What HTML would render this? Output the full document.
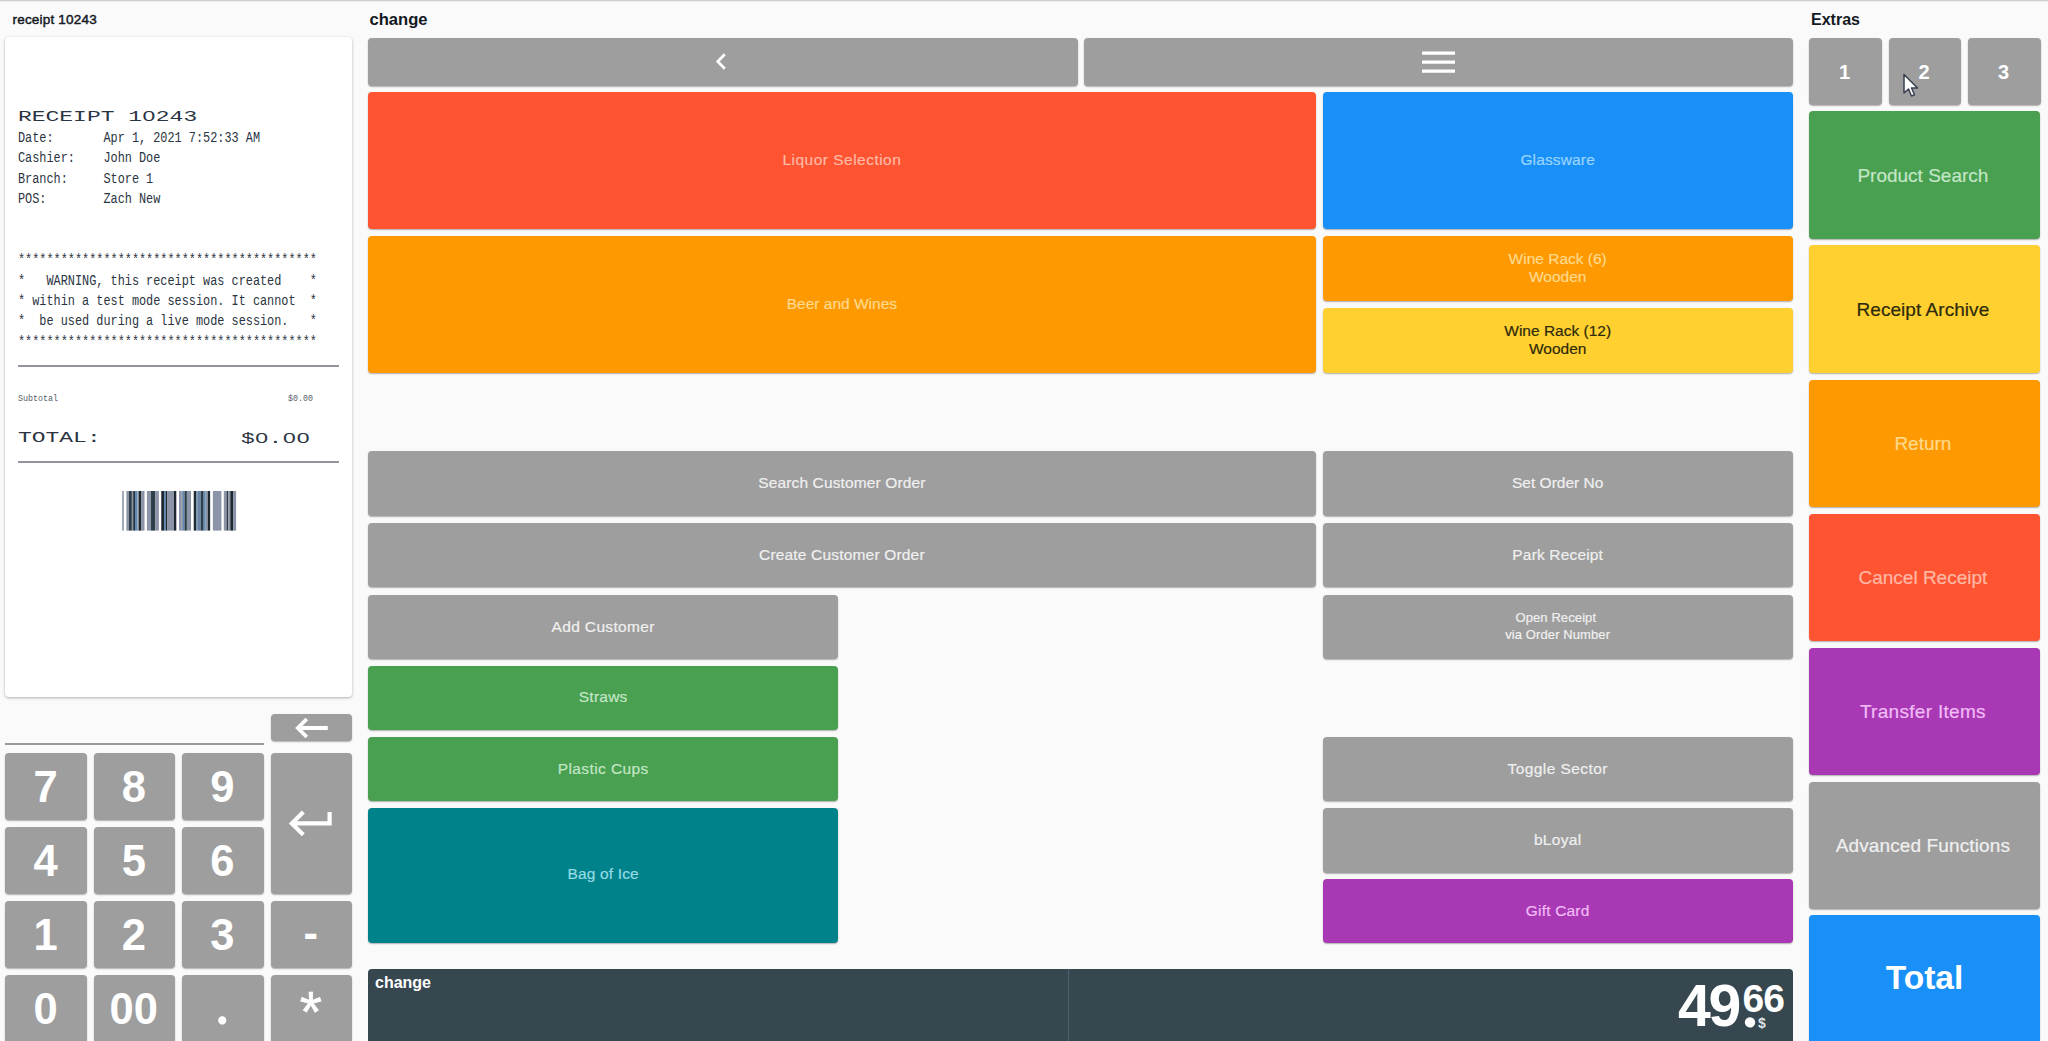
<!DOCTYPE html>
<html lang="en">
<head>
<meta charset="utf-8">
<title>POS</title>
<style>
html,body{margin:0;padding:0;}
body{width:2048px;height:1041px;overflow:hidden;background:#fafafa;position:relative;font-family:"Liberation Sans",Arial,sans-serif;}
.topline{position:absolute;left:0;top:0;width:2048px;height:2px;background:linear-gradient(#cfcfcf,#cfcfcf 1px,#ececec 1px,#ececec);}
.lbl{position:absolute;color:#14181f;font-weight:bold;font-size:16px;line-height:18px;white-space:nowrap;}
.t{position:absolute;box-sizing:border-box;border-radius:4px;display:flex;align-items:center;justify-content:center;text-align:center;color:#f0f0f0;font-size:15.5px;line-height:18px;box-shadow:0 1px 1.5px rgba(0,0,0,.3);white-space:nowrap;-webkit-text-stroke:.2px currentColor;}
.g{background:#9e9e9e;}
.red{background:#ff5432;color:#ffb9a6;}
.org{background:#ff9902;color:#ffd98c;}
.blu{background:#1890f7;color:#9ad4ff;}
.yel{background:#ffd030;color:#2e2a0c;}
.grn{background:#48a050;color:#c3e6c6;}
.tea{background:#00828a;color:#96dce4;}
.pur{background:#a838b4;color:#f2bcf7;}
.ex{font-size:19px;}
.key{font-weight:bold;font-size:43.500px;color:#fff;padding-right:1px;padding-top:1px;-webkit-text-stroke:0;}
.receipt{position:absolute;left:5px;top:37px;width:347px;height:660px;background:#fff;border-radius:4px;box-shadow:0 1px 3px rgba(0,0,0,.3);}
.m{position:absolute;left:18px;white-space:pre;font-family:"Liberation Mono","DejaVu Sans Mono",monospace;color:#2b3442;transform-origin:0 0;}
.hr{position:absolute;left:18px;width:321px;height:2.200px;background:#92959d;}
.bar{position:absolute;left:368px;top:969px;width:1425px;height:76px;background:#36474f;border-radius:4px 4px 0 0;}
.z{font-family:"Liberation Sans",Arial,sans-serif;letter-spacing:.044em;position:relative;left:.022em;}
</style>
</head>
<body>
<div class="topline"></div>

<!-- labels -->
<div class="lbl" style="left:12.500px;top:11px;font-size:13.500px;letter-spacing:.2px;font-weight:normal;-webkit-text-stroke:.45px #14181f;">receipt 10243</div>
<div class="lbl" style="left:369.500px;top:11px;font-size:16.600px;">change</div>
<div class="lbl" style="left:1811px;top:11px;">Extras</div>

<!-- receipt -->
<div class="receipt"></div>
<div class="m" style="top:107.200px;font-size:15.200px;line-height:18px;transform:scaleX(1.512);">RECEIPT 1<span class="z">0</span>243</div>
<div class="m" style="top:127.700px;font-size:14.5px;line-height:20.4px;transform:scaleX(.818);">Date:       Apr 1, 2021 7:52:33 AM
Cashier:    John Doe
Branch:     Store 1
POS:        Zach New


******************************************
*   WARNING, this receipt was created    *
* within a test mode session. It cannot  *
*  be used during a live mode session.   *
******************************************</div>
<div class="hr" style="top:365px;"></div>
<div class="m" style="top:393px;font-size:8.5px;line-height:12px;transform:scaleX(.98);color:#59616e;">Subtotal</div>
<div class="m" style="top:393px;left:287.500px;font-size:8.5px;line-height:12px;transform:scaleX(.98);color:#59616e;">$0.00</div>
<div class="m" style="top:428.500px;font-size:15.200px;line-height:18px;transform:scaleX(1.512);">TOTAL:</div>
<div class="m" style="top:428.500px;left:240.700px;font-size:15.200px;line-height:18px;transform:scaleX(1.512);">$<span class="z">0</span>.<span class="z">00</span></div>
<div class="hr" style="top:461px;"></div>
<svg style="position:absolute;left:110px;top:491.300px;" width="130" height="40" viewBox="0 0 130 40">
<rect x="11.96" y="0" width="2.05" height="39.600" fill="#a3a9b8"/><rect x="16.40" y="0" width="2.39" height="39.600" fill="#8c95a8"/><rect x="18.80" y="0" width="3.08" height="39.600" fill="#2e3f4a"/><rect x="21.87" y="0" width="1.37" height="39.600" fill="#8c95a8"/><rect x="23.24" y="0" width="1.71" height="39.600" fill="#1f2730"/><rect x="24.95" y="0" width="2.39" height="39.600" fill="#5f8ab3"/><rect x="27.34" y="0" width="1.37" height="39.600" fill="#8c95a8"/><rect x="28.71" y="0" width="2.73" height="39.600" fill="#1f2730"/><rect x="31.44" y="0" width="3.08" height="39.600" fill="#8c95a8"/><rect x="36.91" y="0" width="4.10" height="39.600" fill="#8c95a8"/><rect x="41.01" y="0" width="4.10" height="39.600" fill="#2e3f4a"/><rect x="45.11" y="0" width="3.76" height="39.600" fill="#8c95a8"/><rect x="51.26" y="0" width="2.73" height="39.600" fill="#1f2730"/><rect x="54.00" y="0" width="1.71" height="39.600" fill="#5f8ab3"/><rect x="55.71" y="0" width="1.71" height="39.600" fill="#1f2730"/><rect x="57.42" y="0" width="6.49" height="39.600" fill="#8c95a8"/><rect x="63.91" y="0" width="2.39" height="39.600" fill="#1f2730"/><rect x="69.04" y="0" width="2.73" height="39.600" fill="#8c95a8"/><rect x="71.77" y="0" width="1.23" height="39.600" fill="#8c95a8"/><rect x="73.00" y="0" width="1.50" height="39.600" fill="#5f8ab3"/><rect x="74.50" y="0" width="2.39" height="39.600" fill="#2e3f4a"/><rect x="76.90" y="0" width="4.10" height="39.600" fill="#8c95a8"/><rect x="83.73" y="0" width="2.39" height="39.600" fill="#1f2730"/><rect x="86.12" y="0" width="1.71" height="39.600" fill="#6f8fae"/><rect x="87.83" y="0" width="3.08" height="39.600" fill="#6a83a3"/><rect x="90.91" y="0" width="2.73" height="39.600" fill="#2e3f4a"/><rect x="93.64" y="0" width="2.05" height="39.600" fill="#5f8ab3"/><rect x="95.69" y="0" width="2.05" height="39.600" fill="#8c95a8"/><rect x="97.74" y="0" width="2.39" height="39.600" fill="#1f2730"/><rect x="102.87" y="0" width="8.54" height="39.600" fill="#8c95a8"/><rect x="113.81" y="0" width="2.73" height="39.600" fill="#8c95a8"/><rect x="116.54" y="0" width="1.71" height="39.600" fill="#2e3f4a"/><rect x="118.25" y="0" width="2.05" height="39.600" fill="#8c95a8"/><rect x="120.30" y="0" width="2.73" height="39.600" fill="#1f2730"/><rect x="123.03" y="0" width="3.08" height="39.600" fill="#8c95a8"/>
</svg>

<!-- numpad -->
<div style="position:absolute;left:5px;top:743px;width:259px;height:1.5px;background:#9a9a9a;"></div>
<div class="t g" style="left:270.500px;top:714px;width:81.5px;height:27.3px;"></div>
<div class="t g key" style="left:5.200px;top:752.600px;width:81.800px;height:67.700px;">7</div>
<div class="t g key" style="left:93.700px;top:752.600px;width:81.200px;height:67.700px;">8</div>
<div class="t g key" style="left:181.900px;top:752.600px;width:81.700px;height:67.700px;">9</div>
<div class="t g" style="left:270.800px;top:752.600px;width:81.200px;height:141.900px;"></div>
<div class="t g key" style="left:5.200px;top:826.700px;width:81.800px;height:67.700px;">4</div>
<div class="t g key" style="left:93.700px;top:826.700px;width:81.200px;height:67.700px;">5</div>
<div class="t g key" style="left:181.900px;top:826.700px;width:81.700px;height:67.700px;">6</div>
<div class="t g key" style="left:5.200px;top:900.800px;width:81.800px;height:67.700px;">1</div>
<div class="t g key" style="left:93.700px;top:900.800px;width:81.200px;height:67.700px;">2</div>
<div class="t g key" style="left:181.900px;top:900.800px;width:81.700px;height:67.700px;">3</div>
<div class="t g key" style="left:270.800px;top:900.800px;width:81px;height:67.700px;padding-bottom:5px;">-</div>
<div class="t g key" style="left:5.200px;top:974.900px;width:81.800px;height:67.700px;">0</div>
<div class="t g key" style="left:93.700px;top:974.900px;width:81.200px;height:67.700px;">00</div>
<div class="t g key" style="left:181.900px;top:974.900px;width:81.700px;height:67.700px;font-family:'Liberation Serif',serif;font-size:50px;line-height:50px;padding-bottom:5px;">.</div>
<div class="t g key" style="left:270.800px;top:974.900px;width:81.200px;height:67.700px;font-weight:normal;font-size:57px;line-height:57px;padding-top:8px;-webkit-text-stroke:.6px #fff;">*</div>

<!-- main grid -->
<div class="t g" style="left:368px;top:37.500px;width:709.500px;height:48.500px;"></div>
<div class="t g" style="left:1084px;top:37.500px;width:709px;height:48.500px;"></div>

<div class="t red" style="left:368px;top:91.700px;width:947.800px;height:137px;letter-spacing:.48px;">Liquor Selection</div>
<div class="t blu" style="left:1322.700px;top:91.700px;width:470px;height:137px;letter-spacing:.15px;">Glassware</div>
<div class="t org" style="left:368px;top:235.700px;width:947.800px;height:137.400px;">Beer and Wines</div>
<div class="t org" style="left:1322.700px;top:235.700px;width:470px;height:65.200px;">Wine Rack (6)<br>Wooden</div>
<div class="t yel" style="left:1322.700px;top:307.800px;width:470px;height:65.300px;">Wine Rack (12)<br>Wooden</div>

<div class="t g" style="left:368px;top:450.600px;width:947.800px;height:65px;letter-spacing:.13px;">Search Customer Order</div>
<div class="t g" style="left:1322.700px;top:450.600px;width:470px;height:65px;">Set Order No</div>
<div class="t g" style="left:368px;top:522.900px;width:947.800px;height:64.600px;letter-spacing:.18px;">Create Customer Order</div>
<div class="t g" style="left:1322.700px;top:522.900px;width:470px;height:64.600px;letter-spacing:.16px;">Park Receipt</div>
<div class="t g" style="left:368px;top:594.500px;width:470.400px;height:64.200px;letter-spacing:.34px;">Add Customer</div>
<div class="t g" style="left:1322.700px;top:594.500px;width:470px;height:64.200px;font-size:13px;line-height:16.200px;letter-spacing:.1px;">Open Receipt&nbsp;<br>via Order Number</div>
<div class="t grn" style="left:368px;top:665.900px;width:470.400px;height:64.400px;letter-spacing:.25px;padding-bottom:3px;">Straws</div>
<div class="t grn" style="left:368px;top:736.900px;width:470.400px;height:64.200px;letter-spacing:.4px;">Plastic Cups</div>
<div class="t g" style="left:1322.700px;top:736.900px;width:470px;height:64.200px;letter-spacing:.42px;">Toggle Sector</div>
<div class="t tea" style="left:368px;top:807.500px;width:470.400px;height:135.800px;letter-spacing:.15px;padding-bottom:3px;">Bag of Ice</div>
<div class="t g" style="left:1322.700px;top:807.500px;width:470px;height:65.300px;letter-spacing:.3px;">bLoyal</div>
<div class="t pur" style="left:1322.700px;top:878.900px;width:470px;height:64.400px;letter-spacing:.18px;">Gift Card</div>

<!-- bottom bar -->
<div class="bar"></div>
<div style="position:absolute;left:1068.300px;top:969px;width:1.200px;height:72px;background:#4c5f6c;"></div>
<div class="lbl" style="left:375px;top:974px;color:#fff;">change</div>
<div style="position:absolute;left:1678px;top:972.500px;color:#fff;font-weight:bold;font-size:59px;line-height:66px;letter-spacing:-2.300px;">49</div>
<div style="position:absolute;left:1742.500px;top:975.800px;color:#fff;font-weight:bold;font-size:39px;line-height:46px;letter-spacing:-1px;">66</div>
<div style="position:absolute;left:1741.900px;top:974.100px;color:#fff;font-family:'Liberation Serif',serif;font-weight:bold;font-size:64px;line-height:64px;">.</div>
<div style="position:absolute;left:1758px;top:1014.500px;color:#dfe3e6;font-weight:bold;font-size:14px;line-height:16px;">$</div>

<!-- extras -->
<div class="t g ex" style="left:1809.400px;top:38px;width:72.500px;height:67.200px;font-weight:bold;font-size:20px;color:#fff;padding-right:2px;-webkit-text-stroke:0;">1</div>
<div class="t g ex" style="left:1888.800px;top:38px;width:72.500px;height:67.200px;font-weight:bold;font-size:20px;color:#fff;padding-right:2px;-webkit-text-stroke:0;">2</div>
<div class="t g ex" style="left:1968.200px;top:38px;width:72.500px;height:67.200px;font-weight:bold;font-size:20px;color:#fff;padding-right:2px;-webkit-text-stroke:0;">3</div>
<div class="t grn ex" style="left:1808.600px;top:111.200px;width:231.600px;height:127.800px;padding-right:3px;padding-top:2px;">Product Search</div>
<div class="t yel ex" style="left:1808.600px;top:245.100px;width:231.600px;height:127.600px;padding-right:3px;padding-top:2px;letter-spacing:.05px;">Receipt Archive</div>
<div class="t org ex" style="left:1808.600px;top:379.600px;width:231.600px;height:127.200px;padding-right:3px;padding-top:1px;">Return</div>
<div class="t red ex" style="left:1808.600px;top:513.600px;width:231.600px;height:127.200px;padding-right:3px;padding-top:1px;">Cancel Receipt</div>
<div class="t pur ex" style="left:1808.600px;top:647.900px;width:231.600px;height:127.200px;padding-right:3px;padding-top:1px;letter-spacing:.3px;">Transfer Items</div>
<div class="t g ex" style="left:1808.600px;top:781.900px;width:231.600px;height:127.200px;padding-right:3px;padding-top:1px;letter-spacing:.12px;">Advanced Functions</div>
<div class="t blu ex" style="left:1809px;top:915.300px;width:231px;height:130px;color:#fff;font-weight:bold;font-size:33.500px;padding-bottom:4px;-webkit-text-stroke:0;">Total</div>

<!-- icons -->
<svg style="position:absolute;left:0;top:0;pointer-events:none;" width="2048" height="1041" viewBox="0 0 2048 1041" fill="none" stroke="#fff">
<path d="M327.800 728H298.500M306.800 719L297.800 728L306.800 737" stroke-width="3.800"/>
<path d="M329.600 812V823.400H293M303.300 812L291.800 823.400L303.300 834.800" stroke-width="4.200"/>
<path d="M724.800 54.200L717.700 61.500L724.800 68.800" stroke-width="2.700"/>
<path d="M1422 53.200H1455M1422 62.100H1455M1422 71.100H1455" stroke-width="3.200"/>
</svg>

<!-- mouse cursor -->
<svg style="position:absolute;left:1902px;top:73px;" width="18" height="26" viewBox="0 0 18 26"><path d="M2 1.500V20L6.500 16L9.500 23L12.500 21.700L9.500 15H15.500Z" fill="#fff" stroke="#3a4150" stroke-width="1.500" stroke-linejoin="round"/></svg>
</body>
</html>
